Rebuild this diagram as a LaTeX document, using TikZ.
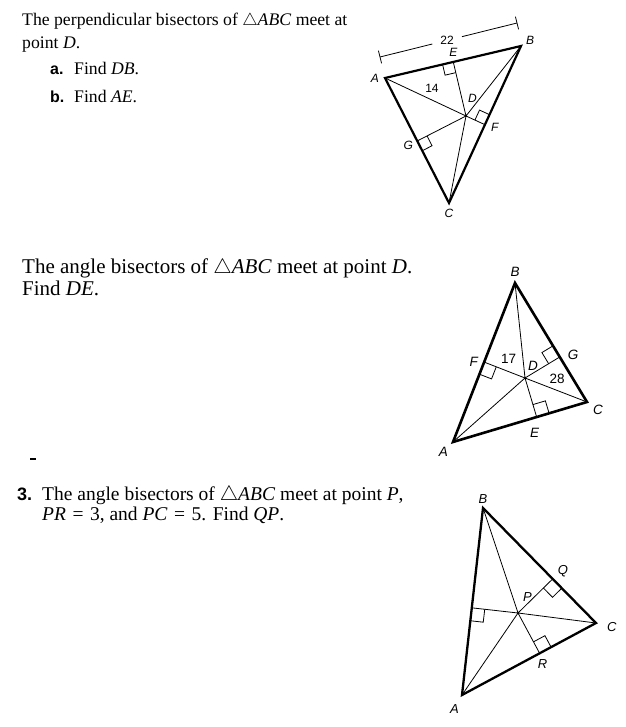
\documentclass[tikz,border=0pt]{standalone}
\usepackage{fontspec}
\setmainfont{Liberation Serif}
\newfontfamily\lblfont{Liberation Sans}
\usetikzlibrary{positioning,calc}

% right angle mark: foot, towards, towards, size
\newcommand{\rtmark}[4]{%
  \draw[rmark] ($(#1)!#4!(#2)$) -- ($(#1)!#4!(#2) + (#1)!#4!(#3) - (#1)$) -- ($(#1)!#4!(#3)$);}

\tikzset{
  side/.style={line width=#1, line join=miter},
  side/.default=2.2pt,
  cevian/.style={line width=0.8pt},
  rmark/.style={line width=0.8pt},
  dimline/.style={line width=0.8pt},
  vlabel/.style={inner sep=0pt, font=\lblfont\itshape\fontsize{#1}{#1}\selectfont},
  vlabel/.default=12,
  num/.style={inner sep=0pt, font=\lblfont\fontsize{#1}{#1}\selectfont},
  num/.default=12,
  prob/.style={anchor=base west, inner sep=0pt, font=\fontsize{#1}{#1}\selectfont},
  itemlbl/.style={anchor=base west, inner sep=0pt, font=\lblfont\bfseries\fontsize{#1}{#1}\selectfont}
}

\begin{document}
\begin{tikzpicture}[x=1pt, y=-1pt]
    \useasboundingbox (0,0) rectangle (625,727);

    % problem texts
    \node[prob=17.7] (q1a) at (22,26) {The perpendicular bisectors of $\triangle$\textit{ABC} meet at};
    \node[prob=17.7] (q1b) at (22,49) {point \textit{D}.};
    \node[itemlbl=16] (ia) at (50,75) {a.};
    \node[prob=17.7] (q1c) at (74,75) {Find \textit{DB}.};
    \node[itemlbl=16] (ib) at (50,102.7) {b.};
    \node[prob=17.7] (q1d) at (74,102.7) {Find \textit{AE}.};

    \node[prob=21] (q2a) at (22,273.3) {The angle bisectors of $\triangle$\textit{ABC} meet at point \textit{D}.};
    \node[prob=21] (q2b) at (22,295) {Find \textit{DE}.};

    \draw[line width=1.3pt] (30,459) -- (36,459);
    \node[itemlbl=18] (i3) at (17,500) {3.};
    \node[prob=19.5] (q3a) at (42,500) {The angle bisectors of $\triangle$\textit{ABC} meet at point \textit{P},};
    \node[prob=19.5] (q3b) at (42,520.7) {\textit{PR}\,\,=\,\,3, and \textit{PC}\,\,=\,\,5. Find \textit{QP}.};

    % first triangle
    \coordinate (A1) at (385,78);
    \coordinate (B1) at (521,46);
    \coordinate (C1) at (449,203);
    \coordinate (D1) at (466,116);
    \coordinate (E1) at ($(A1)!(D1)!(B1)$);
    \coordinate (F1) at ($(B1)!(D1)!(C1)$);
    \coordinate (G1) at ($(A1)!(D1)!(C1)$);

    \draw[cevian] (A1) -- (D1) (B1) -- (D1) (C1) -- (D1)
        (D1) -- (E1) (D1) -- (F1) (D1) -- (G1);
    \rtmark{E1}{D1}{A1}{11pt}
    \rtmark{F1}{D1}{B1}{11pt}
    \rtmark{G1}{D1}{C1}{11pt}
    \draw[side] (A1) -- (B1) -- (C1) -- cycle;

    \coordinate (dimL) at (380,57);
    \coordinate (dimR) at (517,23);
    \node[num, inner sep=8pt] (len22) at ($(dimL)!.49!(dimR)$) {22};
    \draw[dimline] (dimL) -- (len22) -- (dimR);
    \draw[dimline] ($(dimL)!6.5pt!90:(dimR)$) -- ($(dimL)!6.5pt!-90:(dimR)$);
    \draw[dimline] ($(dimR)!6.5pt!90:(dimL)$) -- ($(dimR)!6.5pt!-90:(dimL)$);

    \node[vlabel, left=6pt of A1] (lA1) {A};
    \node[vlabel, above right=1pt and 5pt of B1] (lB1) {B};
    \node[vlabel, below=6pt of C1] (lC1) {C};
    \node[vlabel, above right=13pt and 2pt of D1] (lD1) {D};
    \node[vlabel, above=5pt of E1] (lE1) {E};
    \node[vlabel, right=6pt of F1, yshift=-3pt] (lF1) {F};
    \node[vlabel, left=4pt of G1, yshift=-4pt] (lG1) {G};
    \path (A1) -- (D1) node[num, pos=.58, above=7pt] (len14) {14};

    % second triangle
    \coordinate (A2) at (453,442);
    \coordinate (B2) at (515,283);
    \coordinate (C2) at (587,402);
    \coordinate (D2) at (525,378);
    \coordinate (E2) at ($(A2)!(D2)!(C2)$);
    \coordinate (F2) at ($(A2)!(D2)!(B2)$);
    \coordinate (G2) at ($(B2)!(D2)!(C2)$);

    \draw[cevian] (A2) -- (D2) (B2) -- (D2) (C2) -- (D2)
        (D2) -- (E2) (D2) -- (F2) (D2) -- (G2);
    \rtmark{E2}{D2}{C2}{13pt}
    \rtmark{F2}{D2}{A2}{13pt}
    \rtmark{G2}{D2}{B2}{13pt}
    \draw[side=2.6pt] (A2) -- (B2) -- (C2) -- cycle;

    \node[vlabel=13.5, above=6pt of B2] (lB2) {B};
    \node[vlabel=13.5, below left=5pt and 5pt of A2] (lA2) {A};
    \node[vlabel=13.5, below right=3pt and 6pt of C2] (lC2) {C};
    \node[vlabel=13.5, above right=7pt and 3pt of D2] (lD2) {D};
    \node[vlabel=13.5, below=11pt of E2, xshift=-2pt] (lE2) {E};
    \node[vlabel=13.5, left=6pt of F2] (lF2) {F};
    \node[vlabel=13.5, right=8pt of G2, yshift=2pt] (lG2) {G};
    \path (F2) -- (D2) node[num=13.5, pos=.6, above=8pt] (len17) {17};
    \path (D2) -- (C2) node[num=13.5, pos=.52, above=7pt] (len28) {28};

    % third triangle
    \coordinate (A3) at (462,695);
    \coordinate (B3) at (483,508);
    \coordinate (C3) at (596,623);
    \coordinate (P3) at (518,613);
    \coordinate (Q3) at ($(B3)!(P3)!(C3)$);
    \coordinate (R3) at ($(A3)!(P3)!(C3)$);
    \coordinate (S3) at ($(A3)!(P3)!(B3)$);

    \draw[cevian] (A3) -- (P3) (B3) -- (P3) (C3) -- (P3)
        (P3) -- (Q3) (P3) -- (R3) (P3) -- (S3);
    \rtmark{Q3}{P3}{C3}{13pt}
    \rtmark{R3}{P3}{C3}{13pt}
    \rtmark{S3}{P3}{A3}{13pt}
    \draw[side=2.3pt] (A3) -- (B3) -- (C3) -- cycle;

    \node[vlabel=13, above=4pt of B3] (lB3) {B};
    \node[vlabel=13, below left=9pt and 3pt of A3] (lA3) {A};
    \node[vlabel=13, right=11pt of C3, yshift=-4pt] (lC3) {C};
    \node[vlabel=13, above right=11pt and 5pt of P3] (lP3) {P};
    \node[vlabel=13, above right=2pt and 5pt of Q3] (lQ3) {Q};
    \node[vlabel=13, below=6pt of R3, xshift=3pt] (lR3) {R};
\end{tikzpicture}
\end{document}
